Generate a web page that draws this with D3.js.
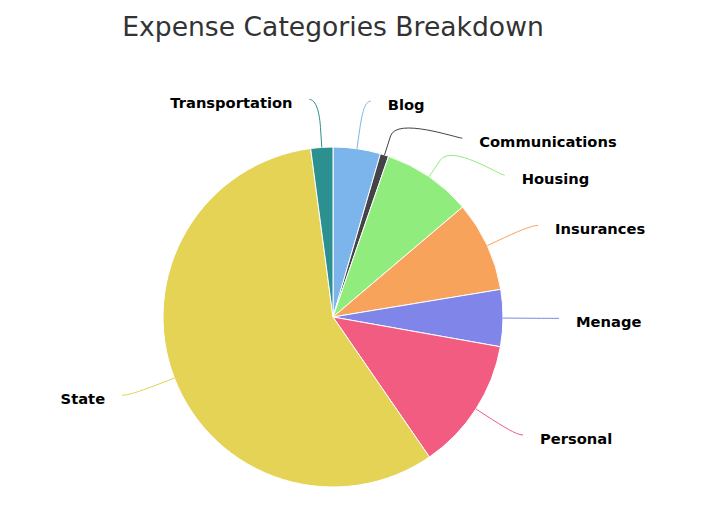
<!DOCTYPE html>
<html>
<head>
<meta charset="utf-8">
<script src="https://cdn.jsdelivr.net/npm/d3@7"></script>
<style>
  body { margin: 0; background: #fff; }
  svg { display: block; }
</style>
</head>
<body>
<svg id="chart" width="713" height="512"></svg>
<script>
// expense shares (percent of total)
var categories = ["Blog", "Communications", "Housing", "Insurances", "Menage", "Personal", "State", "Transportation"];
var values = [4.5, 0.8, 8.5, 8.6, 5.4, 12.6, 57.5, 2.1];
var colors = ["#7cb5ec", "#434348", "#90ed7d", "#f7a35c", "#8085e9", "#f15c80", "#e4d354", "#2b908f"];
var title = "Expense Categories Breakdown";

var svg = d3.select("#chart"),
    cx = 333, cy = 317,
    radius = 170,
    breakOut = 20,       // straight part of connector past the slice edge
    labelRy = 218,       // vertical reach of label anchors
    labelRx = 226,       // horizontal reach of label anchors
    labelGap = 37,       // min vertical distance between labels on a side
    elbow = 11,          // min horizontal run of a connector
    textPad = 17;

svg.append("text")
    .attr("x", cx)
    .attr("y", 36)
    .attr("text-anchor", "middle")
    .style("font-family", "'DejaVu Sans', sans-serif")
    .style("font-size", "26.6px")
    .style("fill", "#333333")
    .text(title);

var data = categories.map(function(c, i) { return {name: c, value: values[i], color: colors[i]}; });

var pie = d3.pie().sort(null).value(function(d) { return d.value; });
var arc = d3.arc().innerRadius(0).outerRadius(radius);
var arcs = pie(data);

var g = svg.append("g").attr("transform", "translate(" + cx + "," + cy + ")");

g.selectAll("path.slice")
    .data(arcs).enter()
    .append("path")
    .attr("class", "slice")
    .attr("d", arc)
    .attr("fill", function(d) { return d.data.color; })
    .attr("stroke", "#ffffff")
    .attr("stroke-width", 1)
    .attr("stroke-linejoin", "round");

function pt(r, a) { return [r * Math.sin(a), -r * Math.cos(a)]; }

// label layout: start on an ellipse, then push apart vertically per side
arcs.forEach(function(d) {
  d.mid = (d.startAngle + d.endAngle) / 2;
  d.right = d.mid < Math.PI;
  d.ly = -labelRy * Math.cos(d.mid);
});
[true, false].forEach(function(side) {
  var list = arcs.filter(function(d) { return d.right === side; })
                 .sort(function(a, b) { return a.ly - b.ly; });
  for (var i = 1; i < list.length; i++) {
    if (list[i].ly - list[i - 1].ly < labelGap) list[i].ly = list[i - 1].ly + labelGap;
  }
});
arcs.forEach(function(d) {
  var k = Math.min(Math.abs(d.ly) / labelRy, 1);
  var dx = labelRx * Math.sqrt(1 - k * k);
  var bx = Math.abs(pt(radius + breakOut, d.mid)[0]) + elbow;
  dx = Math.max(dx, bx);
  d.lx = d.right ? dx : -dx;
});

g.selectAll("path.connector")
    .data(arcs).enter()
    .append("path")
    .attr("class", "connector")
    .attr("fill", "none")
    .attr("stroke", function(d) { return d.data.color; })
    .attr("stroke-width", 1)
    .attr("d", function(d) {
      var touch = pt(radius, d.mid),
          brk = pt(radius + breakOut, d.mid),
          c2 = [2 * brk[0] - touch[0], 2 * brk[1] - touch[1]],
          c1x = d.lx + (d.right ? -5 : 5);
      return "M" + d.lx + "," + d.ly +
             "C" + c1x + "," + d.ly + " " + c2[0] + "," + c2[1] + " " + brk[0] + "," + brk[1] +
             "L" + touch[0] + "," + touch[1];
    });

g.selectAll("text.label")
    .data(arcs).enter()
    .append("text")
    .attr("class", "label")
    .attr("x", function(d) { return d.lx + (d.right ? textPad : -textPad); })
    .attr("y", function(d) { return d.ly + 3.5; })
    .attr("dy", "0.35em")
    .attr("text-anchor", function(d) { return d.right ? "start" : "end"; })
    .style("font-family", "'DejaVu Sans', sans-serif")
    .style("font-size", "14.7px")
    .style("font-weight", "bold")
    .style("fill", "#000000")
    .text(function(d) { return d.data.name; });
</script>
</body>
</html>
